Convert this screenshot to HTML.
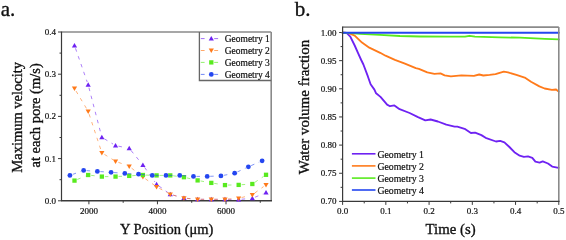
<!DOCTYPE html><html><head><meta charset="utf-8"><style>html,body{margin:0;padding:0;background:#fff;}svg{display:block;}text{font-family:"Liberation Serif",serif;fill:#111;stroke:#111;stroke-width:0.2px;}text.t{stroke-width:0.35px;}svg{will-change:transform;}</style></head><body>
<svg width="566" height="239" viewBox="0 0 566 239">
<text class="t" x="0.8" y="16.2" font-size="21">a.</text>
<text class="t" x="294.7" y="16.2" font-size="21">b.</text>
<line x1="58.0" y1="200.80" x2="61.5" y2="200.80" stroke="#3a3a3a" stroke-width="1"/>
<text x="56.0" y="203.80" font-size="9" text-anchor="end">0.0</text>
<line x1="58.0" y1="158.60" x2="61.5" y2="158.60" stroke="#3a3a3a" stroke-width="1"/>
<text x="56.0" y="161.60" font-size="9" text-anchor="end">0.1</text>
<line x1="58.0" y1="116.40" x2="61.5" y2="116.40" stroke="#3a3a3a" stroke-width="1"/>
<text x="56.0" y="119.40" font-size="9" text-anchor="end">0.2</text>
<line x1="58.0" y1="74.20" x2="61.5" y2="74.20" stroke="#3a3a3a" stroke-width="1"/>
<text x="56.0" y="77.20" font-size="9" text-anchor="end">0.3</text>
<line x1="58.0" y1="32.00" x2="61.5" y2="32.00" stroke="#3a3a3a" stroke-width="1"/>
<text x="56.0" y="35.00" font-size="9" text-anchor="end">0.4</text>
<line x1="59.5" y1="179.70" x2="61.5" y2="179.70" stroke="#3a3a3a" stroke-width="1"/>
<line x1="59.5" y1="137.50" x2="61.5" y2="137.50" stroke="#3a3a3a" stroke-width="1"/>
<line x1="59.5" y1="95.30" x2="61.5" y2="95.30" stroke="#3a3a3a" stroke-width="1"/>
<line x1="59.5" y1="53.10" x2="61.5" y2="53.10" stroke="#3a3a3a" stroke-width="1"/>
<line x1="88.90" y1="200.8" x2="88.90" y2="204.3" stroke="#3a3a3a" stroke-width="1"/>
<text x="88.90" y="213.8" font-size="9" text-anchor="middle">2000</text>
<line x1="157.45" y1="200.8" x2="157.45" y2="204.3" stroke="#3a3a3a" stroke-width="1"/>
<text x="157.45" y="213.8" font-size="9" text-anchor="middle">4000</text>
<line x1="226.00" y1="200.8" x2="226.00" y2="204.3" stroke="#3a3a3a" stroke-width="1"/>
<text x="226.00" y="213.8" font-size="9" text-anchor="middle">6000</text>
<line x1="123.18" y1="200.8" x2="123.18" y2="202.8" stroke="#3a3a3a" stroke-width="1"/>
<line x1="191.73" y1="200.8" x2="191.73" y2="202.8" stroke="#3a3a3a" stroke-width="1"/>
<line x1="260.27" y1="200.8" x2="260.27" y2="202.8" stroke="#3a3a3a" stroke-width="1"/>
<line x1="61.5" y1="32.0" x2="271.2" y2="32.0" stroke="#8a8a8a" stroke-width="1.6"/>
<line x1="271.2" y1="32.0" x2="271.2" y2="200.8" stroke="#8a8a8a" stroke-width="1.6"/>
<line x1="61.5" y1="31.5" x2="61.5" y2="200.8" stroke="#3a3a3a" stroke-width="1.2"/>
<line x1="61.0" y1="200.8" x2="272.0" y2="200.8" stroke="#3a3a3a" stroke-width="1.4"/>
<text class="t" x="120" y="234.4" font-size="14.5">Y Position (&#956;m)</text>
<text class="t" transform="translate(21.8,117.3) rotate(-90)" font-size="14.5" text-anchor="middle">Maximum velocity</text>
<text class="t" transform="translate(39.9,115.4) rotate(-90)" font-size="14.5" text-anchor="middle">at each pore (m/s)</text>
<path d="M75.49,48.33L76.64,51.64M78.21,56.17L79.37,59.48M80.94,64.01L82.09,67.32M83.67,71.85L84.82,75.15M86.40,79.69L87.19,81.97M88.94,87.70L89.82,91.09M91.03,95.73L91.91,99.12M93.12,103.77L94.00,107.15M95.22,111.80L96.10,115.19M97.31,119.83L98.19,123.22M99.40,127.86L100.28,131.25M104.42,138.86L107.42,140.67M111.52,143.16L112.98,144.04M118.48,146.18L121.92,146.86M131.12,150.62L133.34,153.33M136.38,157.04L138.60,159.75M144.63,167.45L146.66,170.30M149.43,174.22L151.46,177.07M154.23,180.99L154.85,181.85M159.00,186.07L161.83,188.14M165.70,190.97L167.84,192.53M173.15,195.10L176.52,196.04M186.93,198.36L190.42,198.67M200.62,199.30L204.12,199.30M214.30,199.30L217.80,199.30M227.98,199.34L231.48,199.40M241.65,199.24L245.14,198.93M255.12,197.16L258.36,195.84M262.80,194.02L263.24,193.84" stroke="#6e22f2" stroke-width="0.95" stroke-opacity="0.6" fill="none"/>
<path d="M74.50,42.90 L77.10,47.40 L71.90,47.40 Z" fill="#6e22f2"/>
<path d="M88.18,82.20 L90.78,86.70 L85.58,86.70 Z" fill="#6e22f2"/>
<path d="M101.86,134.70 L104.46,139.20 L99.26,139.20 Z" fill="#6e22f2"/>
<path d="M115.54,143.00 L118.14,147.50 L112.94,147.50 Z" fill="#6e22f2"/>
<path d="M129.22,145.70 L131.82,150.20 L126.62,150.20 Z" fill="#6e22f2"/>
<path d="M142.90,162.40 L145.50,166.90 L140.30,166.90 Z" fill="#6e22f2"/>
<path d="M156.58,181.70 L159.18,186.20 L153.98,186.20 Z" fill="#6e22f2"/>
<path d="M170.26,191.70 L172.86,196.20 L167.66,196.20 Z" fill="#6e22f2"/>
<path d="M183.94,195.50 L186.54,200.00 L181.34,200.00 Z" fill="#6e22f2"/>
<path d="M197.62,196.70 L200.22,201.20 L195.02,201.20 Z" fill="#6e22f2"/>
<path d="M211.30,196.70 L213.90,201.20 L208.70,201.20 Z" fill="#6e22f2"/>
<path d="M224.98,196.70 L227.58,201.20 L222.38,201.20 Z" fill="#6e22f2"/>
<path d="M238.66,196.90 L241.26,201.40 L236.06,201.40 Z" fill="#6e22f2"/>
<path d="M252.34,195.70 L254.94,200.20 L249.74,200.20 Z" fill="#6e22f2"/>
<path d="M266.02,190.10 L268.62,194.60 L263.42,194.60 Z" fill="#6e22f2"/>
<path d="M76.04,91.07L77.84,94.07M80.31,98.19L82.11,101.19M84.58,105.31L86.38,108.31M89.12,114.15L90.21,117.47M91.72,122.03L92.81,125.36M94.32,129.91L95.41,133.24M96.91,137.80L98.01,141.12M99.51,145.68L100.61,149.00M104.41,154.38L107.38,156.23M111.46,158.76L112.99,159.72M118.36,162.33L121.65,163.53M126.15,165.18L126.40,165.27M131.58,168.15L134.34,170.30M138.12,173.26L140.54,175.15M145.34,178.75L148.18,180.79M152.09,183.58L154.14,185.05M159.21,188.24L162.28,189.92M166.49,192.23L167.63,192.86M173.15,195.10L176.52,196.04M186.93,198.36L190.42,198.67M200.62,199.30L204.12,199.30M214.30,199.30L217.80,199.30M227.97,199.08L231.46,198.83M241.57,197.56L244.96,196.69M254.76,193.03L257.59,190.96M261.46,188.13L263.60,186.57" stroke="#ff7a1a" stroke-width="0.95" stroke-opacity="0.6" fill="none"/>
<path d="M74.50,91.10 L77.10,86.60 L71.90,86.60 Z" fill="#ff7a1a"/>
<path d="M88.18,113.90 L90.78,109.40 L85.58,109.40 Z" fill="#ff7a1a"/>
<path d="M101.86,155.40 L104.46,150.90 L99.26,150.90 Z" fill="#ff7a1a"/>
<path d="M115.54,163.90 L118.14,159.40 L112.94,159.40 Z" fill="#ff7a1a"/>
<path d="M129.22,168.90 L131.82,164.40 L126.62,164.40 Z" fill="#ff7a1a"/>
<path d="M142.90,179.60 L145.50,175.10 L140.30,175.10 Z" fill="#ff7a1a"/>
<path d="M156.58,189.40 L159.18,184.90 L153.98,184.90 Z" fill="#ff7a1a"/>
<path d="M170.26,196.90 L172.86,192.40 L167.66,192.40 Z" fill="#ff7a1a"/>
<path d="M183.94,200.70 L186.54,196.20 L181.34,196.20 Z" fill="#ff7a1a"/>
<path d="M197.62,201.90 L200.22,197.40 L195.02,197.40 Z" fill="#ff7a1a"/>
<path d="M211.30,201.90 L213.90,197.40 L208.70,197.40 Z" fill="#ff7a1a"/>
<path d="M224.98,201.90 L227.58,197.40 L222.38,197.40 Z" fill="#ff7a1a"/>
<path d="M238.66,200.90 L241.26,196.40 L236.06,196.40 Z" fill="#ff7a1a"/>
<path d="M252.34,197.40 L254.94,192.90 L249.74,192.90 Z" fill="#ff7a1a"/>
<path d="M266.02,187.40 L268.62,182.90 L263.42,182.90 Z" fill="#ff7a1a"/>
<path d="M77.28,179.46L80.52,178.14M84.96,176.32L85.40,176.14M91.16,175.35L94.64,175.76M104.86,176.60L108.36,176.60M118.54,176.45L122.03,176.27M132.21,175.70L135.71,175.47M145.90,175.09L149.40,175.19M159.58,175.40L163.08,175.40M173.23,175.79L176.70,176.25M186.86,177.88L190.27,178.68M200.57,180.94L204.01,181.57M214.26,183.38L217.72,183.93M227.98,185.06L231.48,185.00M241.65,184.70L245.15,184.47M254.83,182.33L257.73,180.37M261.72,177.69L263.53,176.47" stroke="#58ea1e" stroke-width="0.95" stroke-opacity="0.6" fill="none"/>
<rect x="72.35" y="178.45" width="4.3" height="4.3" fill="#58ea1e"/>
<rect x="86.03" y="172.85" width="4.3" height="4.3" fill="#58ea1e"/>
<rect x="99.71" y="174.45" width="4.3" height="4.3" fill="#58ea1e"/>
<rect x="113.39" y="174.45" width="4.3" height="4.3" fill="#58ea1e"/>
<rect x="127.07" y="173.75" width="4.3" height="4.3" fill="#58ea1e"/>
<rect x="140.75" y="172.85" width="4.3" height="4.3" fill="#58ea1e"/>
<rect x="154.43" y="173.25" width="4.3" height="4.3" fill="#58ea1e"/>
<rect x="168.11" y="173.25" width="4.3" height="4.3" fill="#58ea1e"/>
<rect x="181.79" y="175.05" width="4.3" height="4.3" fill="#58ea1e"/>
<rect x="195.47" y="178.25" width="4.3" height="4.3" fill="#58ea1e"/>
<rect x="209.15" y="180.75" width="4.3" height="4.3" fill="#58ea1e"/>
<rect x="222.83" y="182.95" width="4.3" height="4.3" fill="#58ea1e"/>
<rect x="236.51" y="182.75" width="4.3" height="4.3" fill="#58ea1e"/>
<rect x="250.19" y="181.85" width="4.3" height="4.3" fill="#58ea1e"/>
<rect x="263.87" y="172.65" width="4.3" height="4.3" fill="#58ea1e"/>
<path d="M72.72,174.37L76.01,173.18M80.52,171.53L80.81,171.43M86.62,170.62L90.11,170.87M100.35,171.60L103.85,171.83M114.08,172.54L117.57,172.82M127.81,173.57L131.31,173.78M141.54,174.46L145.03,174.77M155.28,175.40L158.78,175.40M169.01,175.40L172.51,175.40M182.73,175.62L186.22,175.87M196.47,176.40L199.97,176.40M210.20,176.29L213.70,176.16M223.87,175.32L227.31,174.65M237.38,171.93L240.55,170.45M244.90,168.43L245.67,168.07M251.14,165.60L254.35,164.20M258.74,162.28L259.37,162.00" stroke="#2446f0" stroke-width="0.95" stroke-opacity="0.6" fill="none"/>
<circle cx="69.90" cy="175.40" r="2.4" fill="#2446f0"/>
<circle cx="83.63" cy="170.40" r="2.4" fill="#2446f0"/>
<circle cx="97.36" cy="171.40" r="2.4" fill="#2446f0"/>
<circle cx="111.09" cy="172.30" r="2.4" fill="#2446f0"/>
<circle cx="124.82" cy="173.40" r="2.4" fill="#2446f0"/>
<circle cx="138.55" cy="174.20" r="2.4" fill="#2446f0"/>
<circle cx="152.28" cy="175.40" r="2.4" fill="#2446f0"/>
<circle cx="166.01" cy="175.40" r="2.4" fill="#2446f0"/>
<circle cx="179.74" cy="175.40" r="2.4" fill="#2446f0"/>
<circle cx="193.47" cy="176.40" r="2.4" fill="#2446f0"/>
<circle cx="207.20" cy="176.40" r="2.4" fill="#2446f0"/>
<circle cx="220.93" cy="175.90" r="2.4" fill="#2446f0"/>
<circle cx="234.66" cy="173.20" r="2.4" fill="#2446f0"/>
<circle cx="248.39" cy="166.80" r="2.4" fill="#2446f0"/>
<circle cx="262.12" cy="160.80" r="2.4" fill="#2446f0"/>
<path d="M199.4,32.0 L199.4,80.5 L271.2,80.5" stroke="#666" stroke-width="1.3" fill="none"/>
<line x1="200.8" y1="38.6" x2="204.6" y2="38.6" stroke="#6e22f2" stroke-width="1" stroke-opacity="0.65"/>
<line x1="214.2" y1="38.6" x2="218.1" y2="38.6" stroke="#6e22f2" stroke-width="1" stroke-opacity="0.65"/>
<path d="M211.30,36.00 L213.90,40.50 L208.70,40.50 Z" fill="#6e22f2"/>
<text x="224.7" y="42.10" font-size="9.5">Geometry 1</text>
<line x1="200.8" y1="50.5" x2="204.6" y2="50.5" stroke="#ff7a1a" stroke-width="1" stroke-opacity="0.65"/>
<line x1="214.2" y1="50.5" x2="218.1" y2="50.5" stroke="#ff7a1a" stroke-width="1" stroke-opacity="0.65"/>
<path d="M211.30,53.10 L213.90,48.60 L208.70,48.60 Z" fill="#ff7a1a"/>
<text x="224.7" y="54.00" font-size="9.5">Geometry 2</text>
<line x1="200.8" y1="62.4" x2="204.6" y2="62.4" stroke="#58ea1e" stroke-width="1" stroke-opacity="0.65"/>
<line x1="214.2" y1="62.4" x2="218.1" y2="62.4" stroke="#58ea1e" stroke-width="1" stroke-opacity="0.65"/>
<rect x="209.15" y="60.25" width="4.3" height="4.3" fill="#58ea1e"/>
<text x="224.7" y="65.90" font-size="9.5">Geometry 3</text>
<line x1="200.8" y1="74.4" x2="204.6" y2="74.4" stroke="#2446f0" stroke-width="1" stroke-opacity="0.65"/>
<line x1="214.2" y1="74.4" x2="218.1" y2="74.4" stroke="#2446f0" stroke-width="1" stroke-opacity="0.65"/>
<circle cx="211.30" cy="74.40" r="2.4" fill="#2446f0"/>
<text x="224.7" y="77.90" font-size="9.5">Geometry 4</text>
<line x1="339.1" y1="32.50" x2="342.6" y2="32.50" stroke="#3a3a3a" stroke-width="1"/>
<text x="336.40000000000003" y="35.50" font-size="9" text-anchor="end">1.00</text>
<line x1="339.1" y1="60.65" x2="342.6" y2="60.65" stroke="#3a3a3a" stroke-width="1"/>
<text x="336.40000000000003" y="63.65" font-size="9" text-anchor="end">0.95</text>
<line x1="339.1" y1="88.80" x2="342.6" y2="88.80" stroke="#3a3a3a" stroke-width="1"/>
<text x="336.40000000000003" y="91.80" font-size="9" text-anchor="end">0.90</text>
<line x1="339.1" y1="116.95" x2="342.6" y2="116.95" stroke="#3a3a3a" stroke-width="1"/>
<text x="336.40000000000003" y="119.95" font-size="9" text-anchor="end">0.85</text>
<line x1="339.1" y1="145.10" x2="342.6" y2="145.10" stroke="#3a3a3a" stroke-width="1"/>
<text x="336.40000000000003" y="148.10" font-size="9" text-anchor="end">0.80</text>
<line x1="339.1" y1="173.25" x2="342.6" y2="173.25" stroke="#3a3a3a" stroke-width="1"/>
<text x="336.40000000000003" y="176.25" font-size="9" text-anchor="end">0.75</text>
<line x1="339.1" y1="201.40" x2="342.6" y2="201.40" stroke="#3a3a3a" stroke-width="1"/>
<text x="336.40000000000003" y="204.40" font-size="9" text-anchor="end">0.70</text>
<line x1="340.6" y1="46.58" x2="342.6" y2="46.58" stroke="#3a3a3a" stroke-width="1"/>
<line x1="340.6" y1="74.73" x2="342.6" y2="74.73" stroke="#3a3a3a" stroke-width="1"/>
<line x1="340.6" y1="102.88" x2="342.6" y2="102.88" stroke="#3a3a3a" stroke-width="1"/>
<line x1="340.6" y1="131.03" x2="342.6" y2="131.03" stroke="#3a3a3a" stroke-width="1"/>
<line x1="340.6" y1="159.18" x2="342.6" y2="159.18" stroke="#3a3a3a" stroke-width="1"/>
<line x1="340.6" y1="187.33" x2="342.6" y2="187.33" stroke="#3a3a3a" stroke-width="1"/>
<line x1="342.60" y1="201.4" x2="342.60" y2="204.9" stroke="#3a3a3a" stroke-width="1"/>
<text x="342.60" y="214" font-size="9" text-anchor="middle">0.0</text>
<line x1="385.84" y1="201.4" x2="385.84" y2="204.9" stroke="#3a3a3a" stroke-width="1"/>
<text x="385.84" y="214" font-size="9" text-anchor="middle">0.1</text>
<line x1="429.08" y1="201.4" x2="429.08" y2="204.9" stroke="#3a3a3a" stroke-width="1"/>
<text x="429.08" y="214" font-size="9" text-anchor="middle">0.2</text>
<line x1="472.32" y1="201.4" x2="472.32" y2="204.9" stroke="#3a3a3a" stroke-width="1"/>
<text x="472.32" y="214" font-size="9" text-anchor="middle">0.3</text>
<line x1="515.56" y1="201.4" x2="515.56" y2="204.9" stroke="#3a3a3a" stroke-width="1"/>
<text x="515.56" y="214" font-size="9" text-anchor="middle">0.4</text>
<line x1="558.80" y1="201.4" x2="558.80" y2="204.9" stroke="#3a3a3a" stroke-width="1"/>
<text x="558.80" y="214" font-size="9" text-anchor="middle">0.5</text>
<line x1="364.22" y1="201.4" x2="364.22" y2="203.4" stroke="#3a3a3a" stroke-width="1"/>
<line x1="407.46" y1="201.4" x2="407.46" y2="203.4" stroke="#3a3a3a" stroke-width="1"/>
<line x1="450.70" y1="201.4" x2="450.70" y2="203.4" stroke="#3a3a3a" stroke-width="1"/>
<line x1="493.94" y1="201.4" x2="493.94" y2="203.4" stroke="#3a3a3a" stroke-width="1"/>
<line x1="537.18" y1="201.4" x2="537.18" y2="203.4" stroke="#3a3a3a" stroke-width="1"/>
<text class="t" x="425.6" y="234.4" font-size="14.8">Time (s)</text>
<text class="t" transform="translate(308.5,107) rotate(-90)" font-size="15" text-anchor="middle">Water volume fraction</text>
<polyline points="342.6,32.6 346.6,32.8 350.3,36.7 354.7,45.5 358.3,53.6 361.2,60 363.4,64.5 367.8,76.2 370.6,84.3 374.4,89.6 376.1,93.3 380.5,96.9 387.1,104.6 390,106.2 394.4,105.4 399.6,109.2 409.6,113 418,117.2 425.3,120.3 430.6,119.5 437.9,121.5 446.3,124.7 454.6,126.6 457.3,126.7 464.6,128.8 470.9,133 475.1,132.6 481.4,135.1 485.6,137.8 496,141.5 500.2,140.9 504.4,142.3 509.4,147 514.4,152.2 519.7,155.7 523.9,156.8 528,156.4 532.3,157.8 535.4,161.6 539.6,162.6 542.7,161.4 548,163.5 552.2,166.6 558.6,167.9" stroke="#6e22f2" stroke-width="1.85" fill="none" stroke-linejoin="round" stroke-linecap="round"/>
<polyline points="342.6,32.6 347,32.8 350,33.6 354.7,35.6 362,42.6 369.3,47.7 380.2,52.8 385.5,55.7 394.9,59.9 404.3,63.4 415.8,68.2 418.9,68.9 427.3,72.4 434.4,73.8 440.5,73.4 444.6,75.3 450.9,76.3 461.4,75.3 473.9,75.9 479.2,74.5 483.3,75.5 489.6,74.9 495.5,74.2 503.8,71.7 508,72.4 516.4,74.9 524.7,77.6 531,81.8 539.4,86.4 544.6,88.5 551.9,89.9 556.1,89.5 558.6,91.6" stroke="#ff7a1a" stroke-width="1.85" fill="none" stroke-linejoin="round" stroke-linecap="round"/>
<polyline points="342.6,32.6 347,32.8 360,33.8 380,34.9 400,36 420,36.5 450,36.7 465,36.6 469.5,35.8 475,36.6 500,37.4 520,37.7 530,38.1 545,38.9 558.8,39.4" stroke="#58ea1e" stroke-width="1.85" fill="none" stroke-linejoin="round" stroke-linecap="round"/>
<polyline points="342.6,32.7 558.8,32.7" stroke="#2446f0" stroke-width="1.85" fill="none" stroke-linejoin="round" stroke-linecap="round"/>
<line x1="342.6" y1="27.1" x2="558.8" y2="27.1" stroke="#8a8a8a" stroke-width="1.6"/>
<line x1="558.8" y1="27.1" x2="558.8" y2="201.4" stroke="#8a8a8a" stroke-width="1.6"/>
<line x1="342.6" y1="26.6" x2="342.6" y2="201.4" stroke="#3a3a3a" stroke-width="1.2"/>
<line x1="342.1" y1="201.4" x2="559.5999999999999" y2="201.4" stroke="#3a3a3a" stroke-width="1.4"/>
<line x1="351.9" y1="153.8" x2="375.5" y2="153.8" stroke="#6e22f2" stroke-width="1.6"/>
<text x="377.4" y="157.60" font-size="9.8">Geometry 1</text>
<line x1="351.9" y1="165.9" x2="375.5" y2="165.9" stroke="#ff7a1a" stroke-width="1.6"/>
<text x="377.4" y="169.70" font-size="9.8">Geometry 2</text>
<line x1="351.9" y1="178.1" x2="375.5" y2="178.1" stroke="#58ea1e" stroke-width="1.6"/>
<text x="377.4" y="181.90" font-size="9.8">Geometry 3</text>
<line x1="351.9" y1="190.0" x2="375.5" y2="190.0" stroke="#2446f0" stroke-width="1.6"/>
<text x="377.4" y="193.80" font-size="9.8">Geometry 4</text>
</svg></body></html>
